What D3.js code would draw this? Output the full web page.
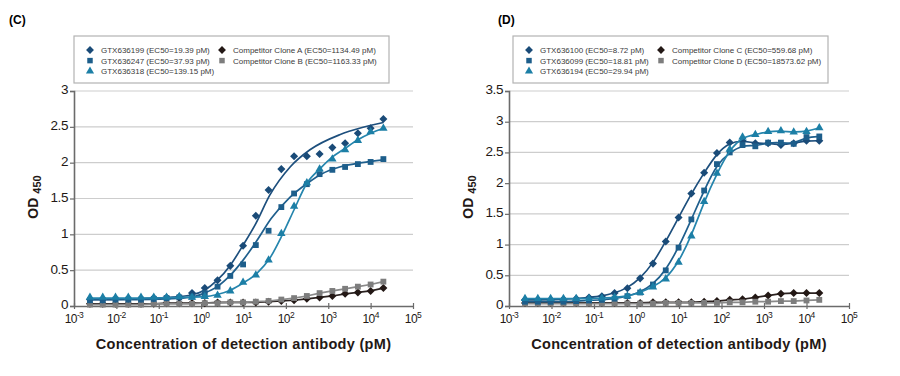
<!DOCTYPE html>
<html>
<head>
<meta charset="utf-8">
<script src="https://cdn.jsdelivr.net/npm/d3@7"></script>
<style>
  body { margin: 0; background: #fff; }
  text { font-family: "Liberation Sans", Arial, sans-serif; }
</style>
</head>
<body>
<div id="chart"></div>
<script>
// concentrations of detection antibody (pM), 2-fold dilution
const conc = [0.00238, 0.00477, 0.00954, 0.0191, 0.0381, 0.0763, 0.153, 0.305, 0.61, 1.22, 2.44, 4.88,
  9.77, 19.53, 39.06, 78.13, 156.25, 312.5, 625, 1250, 2500, 5000, 10000, 20000];

const xTicks = [-3, -2, -1, 0, 1, 2, 3, 4, 5];
const yTicksC = [0, 0.5, 1, 1.5, 2, 2.5, 3];
const yTicksD = [0, 0.5, 1, 1.5, 2, 2.5, 3, 3.5];

// panel C values (OD 450)
const gtx636199 = [0.09, 0.09, 0.10, 0.10, 0.10, 0.11, 0.12, 0.13, 0.18, 0.25, 0.36, 0.56, 0.84, 1.26, 1.62, 1.91, 2.09, 2.09, 2.12, 2.21, 2.27, 2.41, 2.48, 2.61];
const gtx636247 = [0.08, 0.08, 0.09, 0.09, 0.09, 0.10, 0.11, 0.12, 0.13, 0.18, 0.27, 0.42, 0.58, 0.85, 1.05, 1.38, 1.57, 1.70, 1.84, 1.90, 1.94, 1.98, 2.01, 2.05];
const gtx636318 = [0.12, 0.12, 0.12, 0.12, 0.12, 0.12, 0.12, 0.13, 0.12, 0.13, 0.15, 0.21, 0.33, 0.43, 0.64, 1.01, 1.39, 1.72, 1.91, 2.05, 2.18, 2.31, 2.43, 2.48];
const cloneA = [0.03, 0.03, 0.03, 0.03, 0.03, 0.03, 0.04, 0.04, 0.04, 0.04, 0.05, 0.05, 0.05, 0.05, 0.06, 0.07, 0.08, 0.10, 0.12, 0.14, 0.17, 0.19, 0.21, 0.25];
const cloneB = [0.02, 0.02, 0.02, 0.02, 0.02, 0.03, 0.03, 0.03, 0.03, 0.04, 0.04, 0.05, 0.05, 0.06, 0.07, 0.09, 0.11, 0.14, 0.18, 0.21, 0.24, 0.27, 0.30, 0.34];

// fitted curves of panel C as [conc, OD]
const fit636199 = [[0.00238, 0.09], [0.03, 0.10], [0.16, 0.12], [0.55, 0.15], [1.2, 0.22], [2.4, 0.36], [4.9, 0.57], [9.8, 0.85], [19.5, 1.15], [42, 1.55], [126, 1.94], [370, 2.18], [1860, 2.39], [6300, 2.49], [20000, 2.56]];
const fit636247 = [[0.00238, 0.09], [0.03, 0.09], [0.16, 0.10], [0.55, 0.12], [1.2, 0.18], [2.4, 0.27], [4.9, 0.43], [9.8, 0.64], [20, 0.90], [45, 1.22], [126, 1.52], [316, 1.71], [680, 1.84], [1860, 1.94], [6300, 2.0], [20000, 2.04]];
const fit636318 = [[0.00238, 0.11], [0.03, 0.11], [0.3, 0.12], [1.2, 0.13], [2.4, 0.16], [4.9, 0.22], [9.8, 0.32], [21, 0.46], [42, 0.67], [85, 1.01], [158, 1.35], [310, 1.71], [650, 1.92], [1260, 2.08], [2500, 2.20], [5000, 2.32], [10000, 2.41], [20000, 2.48]];

// panel D values (OD 450)
const gtx636100 = [0.10, 0.10, 0.10, 0.11, 0.12, 0.14, 0.16, 0.21, 0.29, 0.45, 0.69, 1.05, 1.44, 1.83, 2.17, 2.49, 2.66, 2.69, 2.65, 2.65, 2.62, 2.65, 2.69, 2.69];
const gtx636099 = [0.07, 0.07, 0.07, 0.07, 0.08, 0.09, 0.10, 0.12, 0.16, 0.22, 0.35, 0.58, 0.95, 1.41, 1.88, 2.31, 2.50, 2.62, 2.60, 2.66, 2.66, 2.64, 2.75, 2.76];
const gtx636194 = [0.12, 0.12, 0.12, 0.12, 0.12, 0.12, 0.13, 0.14, 0.16, 0.22, 0.31, 0.44, 0.71, 1.14, 1.70, 2.16, 2.55, 2.75, 2.79, 2.84, 2.85, 2.83, 2.84, 2.90];
const cloneC = [0.05, 0.05, 0.05, 0.05, 0.05, 0.05, 0.05, 0.05, 0.05, 0.05, 0.06, 0.06, 0.06, 0.06, 0.07, 0.08, 0.10, 0.11, 0.14, 0.17, 0.20, 0.21, 0.21, 0.21];
const cloneD = [0.04, 0.04, 0.04, 0.04, 0.04, 0.04, 0.04, 0.04, 0.04, 0.04, 0.04, 0.05, 0.05, 0.05, 0.05, 0.05, 0.06, 0.06, 0.07, 0.07, 0.08, 0.08, 0.09, 0.10];

const legendC = ["GTX636199 (EC50=19.39 pM)", "GTX636247 (EC50=37.93 pM)", "GTX636318 (EC50=139.15 pM)",
  "Competitor Clone A (EC50=1134.49 pM)", "Competitor Clone B (EC50=1163.33 pM)"];
const legendD = ["GTX636100 (EC50=8.72 pM)", "GTX636099 (EC50=18.81 pM)", "GTX636194 (EC50=29.94 pM)",
  "Competitor Clone C (EC50=559.68 pM)", "Competitor Clone D (EC50=18573.62 pM)"];

const shapes = ["diamond", "square", "triangle", "diamond", "square"];
const colors = ["#1a4b78", "#1d5e8b", "#1c7fa6", "#231815", "#7d7d7d"];
const lineColors = ["#1d4f7d", "#1f5f8d", "#2585ad", "#2b2220", "#8a8a8a"];

const svg = d3.select("#chart").append("svg")
  .attr("width", 900)
  .attr("height", 376);

function marker(sel, shape, s) {
  if (shape === "diamond") {
    sel.attr("d", d3.symbol(d3.symbolSquare, s * 0.9)());
  } else if (shape === "square") {
    sel.attr("d", d3.symbol(d3.symbolSquare, s)());
  } else {
    sel.attr("d", d3.symbol(d3.symbolTriangle, s * 0.85)());
  }
}

function drawPanel(p) {
  const x = d3.scaleLog().domain([1e-3, 1e5]).range([p.left, p.right]);
  const y = d3.scaleLinear().domain([0, p.ymax]).range([306, 91]);
  const g = svg.append("g");

  // panel letter
  g.append("text").attr("x", p.labelX).attr("y", 24)
    .attr("font-size", 12).attr("font-weight", "bold").text(p.letter);

  // grid
  g.append("g").selectAll("line")
    .data(p.yTicks.filter(d => d > 0))
    .join("line")
    .attr("x1", p.left).attr("x2", p.right)
    .attr("y1", d => y(d)).attr("y2", d => y(d))
    .attr("stroke", "#cdcdcd").attr("stroke-width", 1.2);

  // y axis
  const yAxis = g.append("g")
    .attr("transform", `translate(${p.left},0)`)
    .call(d3.axisLeft(y).tickValues(p.yTicks).tickFormat(d3.format("~g")).tickSize(4).tickPadding(2));
  yAxis.select(".domain").attr("stroke", "#6b6b6b").attr("stroke-width", 1.6);
  yAxis.selectAll(".tick line").attr("stroke", "#6b6b6b").attr("stroke-width", 1.2);
  yAxis.selectAll(".tick text").attr("font-size", 13.5).attr("fill", "#231815")
    .attr("dy", "0.22em")
    .attr("font-family", "Liberation Sans, Arial, sans-serif").attr("letter-spacing", -0.4);

  // x axis
  const xAxis = g.append("g")
    .attr("transform", `translate(0,306)`)
    .call(d3.axisBottom(x).tickValues(xTicks.map(e => Math.pow(10, e))).tickFormat("").tickSize(3).tickSizeOuter(0));
  xAxis.select(".domain").attr("stroke", "#6b6b6b").attr("stroke-width", 1.6);
  xAxis.selectAll(".tick line").attr("y1", -3).attr("stroke", "#6b6b6b").attr("stroke-width", 1.2);
  const xl = g.append("g").selectAll("text")
    .data(xTicks)
    .join("text")
    .attr("x", d => x(Math.pow(10, d)))
    .attr("y", 322.5)
    .attr("text-anchor", "middle")
    .attr("font-size", 12)
    .attr("fill", "#231815")
    .attr("letter-spacing", -0.6);
  xl.append("tspan").text("10");
  xl.append("tspan").attr("dy", -5).attr("font-size", 8.5).text(d => d);

  // axis titles
  g.append("text")
    .attr("x", (p.left + p.right) / 2).attr("y", 349)
    .attr("text-anchor", "middle")
    .attr("font-size", 14.5).attr("font-weight", "bold").attr("fill", "#231815")
    .attr("letter-spacing", 0.3)
    .text("Concentration of detection antibody (pM)");
  const yt = g.append("text")
    .attr("transform", `translate(${p.left - 36},197) rotate(-90)`)
    .attr("text-anchor", "middle")
    .attr("font-weight", "bold").attr("fill", "#231815");
  yt.append("tspan").attr("font-size", 14).text("OD");
  yt.append("tspan").attr("font-size", 11).attr("dx", 4).attr("dy", 3).text("450");

  const line = d3.line().x(d => x(d[0])).y(d => y(d[1]));

  // series: competitors first, then GTX clones on top
  [3, 4, 0, 1, 2].forEach(k => {
    const s = p.series[k];
    const pts = conc.map((c, i) => [c, s[i]]);
    let path;
    if (k >= 3) {
      path = line.curve(d3.curveLinear)(pts);
    } else if (p.fits) {
      path = line.curve(d3.curveMonotoneX)(p.fits[k]);
    } else {
      path = line.curve(d3.curveBasis)(pts);
    }
    g.append("path").attr("d", path)
      .attr("fill", "none").attr("stroke", lineColors[k]).attr("stroke-width", 1.7);

    const sz = shapes[k] === "square" ? 34 : 36;
    g.append("g").selectAll("path")
      .data(pts)
      .join("path")
      .each(function () { marker(d3.select(this), shapes[k], sz); })
      .attr("transform", d => `translate(${x(d[0])},${y(d[1])})` + (shapes[k] === "diamond" ? " rotate(45)" : ""))
      .attr("fill", colors[k]);
  });

  // legend
  const lg = g.append("g");
  lg.append("rect")
    .attr("x", p.legX).attr("y", 36).attr("width", 315).attr("height", 47)
    .attr("fill", "#fff").attr("stroke", "#b3b3b3").attr("stroke-width", 1.2);
  p.legend.forEach((name, k) => {
    const col = k < 3 ? 0 : 1;
    const row = k < 3 ? k : k - 3;
    const mx = p.legX + (col === 0 ? 16 : 148);
    const my = 50 + row * 10.6;
    const m = lg.append("path").attr("fill", colors[k])
      .attr("transform", `translate(${mx},${my})` + (shapes[k] === "diamond" ? " rotate(45)" : ""));
    marker(m, shapes[k], shapes[k] === "square" ? 30 : 34);
    lg.append("text").attr("x", mx + 11).attr("y", my + 3)
      .attr("font-size", 8).attr("fill", "#3a3a3a").text(name);
  });
}

drawPanel({
  letter: "(C)", labelX: 9, left: 74, right: 413, ymax: 3, yTicks: yTicksC, legX: 74,
  series: [gtx636199, gtx636247, gtx636318, cloneA, cloneB],
  fits: [fit636199, fit636247, fit636318],
  legend: legendC
});
drawPanel({
  letter: "(D)", labelX: 498, left: 509, right: 849, ymax: 3.5, yTicks: yTicksD, legX: 513,
  series: [gtx636100, gtx636099, gtx636194, cloneC, cloneD],
  fits: null,
  legend: legendD
});
</script>
</body>
</html>
